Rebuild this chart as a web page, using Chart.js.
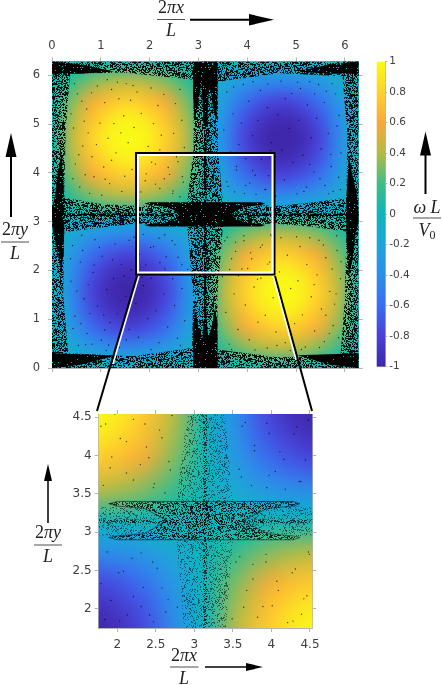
<!DOCTYPE html>
<html>
<head>
<meta charset="utf-8">
<title>Vorticity map</title>
<script src="https://cdn.jsdelivr.net/npm/chart.js@4"></script>
<style>
    html, body { margin: 0; padding: 0; background: #fff; }
    #page { position: relative; width: 442px; height: 685px; overflow: hidden; }
    canvas, svg { position: absolute; left: 0; top: 0; }
    .math { font-family: "Liberation Serif", serif; font-size: 18px; fill: #222; }
</style>
</head>
<body>
<div id="page">
    <canvas id="mainChart" width="442" height="400"></canvas>
    <canvas id="barChart" width="442" height="400"></canvas>
    <canvas id="zoomChart" width="442" height="685"></canvas>
    <svg width="442" height="685" xmlns="http://www.w3.org/2000/svg">
        <!-- zoom box and connectors -->
        <rect x="136" y="153" width="138.5" height="121.5" fill="none" stroke="#000" stroke-width="2"/>
        <rect x="138" y="155" width="134.5" height="117.5" fill="none" stroke="#fff" stroke-width="2"/>
        <line x1="137" y1="276" x2="97" y2="411" stroke="#000" stroke-width="2"/>
        <line x1="139" y1="276" x2="113" y2="364" stroke="#fff" stroke-width="1.5"/>
        <line x1="275" y1="276" x2="312" y2="411" stroke="#000" stroke-width="2"/>
        <line x1="273" y1="276" x2="296" y2="360" stroke="#fff" stroke-width="1.5"/>

        <!-- top x label -->
        <text class="math" x="171" y="13" text-anchor="middle">2<tspan font-style="italic">πx</tspan></text>
        <line x1="157" y1="19.5" x2="185" y2="19.5" stroke="#222" stroke-width="0.8"/>
        <text class="math" x="171" y="36" text-anchor="middle" font-style="italic">L</text>
        <line x1="190" y1="19.7" x2="252" y2="19.7" stroke="#000" stroke-width="2"/>
        <polygon points="249,14 274,19.7 249,25.5" fill="#000"/>

        <!-- left y label -->
        <line x1="11" y1="217" x2="11" y2="155" stroke="#000" stroke-width="2"/>
        <polygon points="5.5,157 11,133 16.5,157" fill="#000"/>
        <text class="math" x="15" y="235" text-anchor="middle">2<tspan font-style="italic">πy</tspan></text>
        <line x1="1" y1="242" x2="29" y2="242" stroke="#222" stroke-width="0.8"/>
        <text class="math" x="15" y="259" text-anchor="middle" font-style="italic">L</text>

        <!-- colour bar label -->
        <line x1="425.5" y1="194" x2="425.5" y2="153" stroke="#000" stroke-width="2"/>
        <polygon points="420,155.5 425.5,131.5 431,155.5" fill="#000"/>
        <text class="math" x="427" y="213" text-anchor="middle" font-style="italic">ω L</text>
        <line x1="413" y1="218" x2="441" y2="218" stroke="#222" stroke-width="0.8"/>
        <text class="math" x="427" y="236" text-anchor="middle"><tspan font-style="italic">V</tspan><tspan font-size="12" dy="3">0</tspan></text>

        <!-- zoom y label -->
        <line x1="48" y1="523" x2="48" y2="479" stroke="#000" stroke-width="1.5"/>
        <polygon points="44,481 48,464 52,481" fill="#000"/>
        <text class="math" x="48" y="538" text-anchor="middle">2<tspan font-style="italic">πy</tspan></text>
        <line x1="34" y1="545" x2="62" y2="545" stroke="#222" stroke-width="0.8"/>
        <text class="math" x="48" y="562" text-anchor="middle" font-style="italic">L</text>

        <!-- zoom x label -->
        <text class="math" x="184" y="661" text-anchor="middle">2<tspan font-style="italic">πx</tspan></text>
        <line x1="170" y1="667" x2="198.5" y2="667" stroke="#222" stroke-width="0.8"/>
        <text class="math" x="184" y="684" text-anchor="middle" font-style="italic">L</text>
        <line x1="205" y1="667" x2="248" y2="667" stroke="#000" stroke-width="1.5"/>
        <polygon points="246,663 263,667 246,671" fill="#000"/>
    </svg>
</div>
<script>
// ---- axis ticks ----
const mainTicks = [0, 1, 2, 3, 4, 5, 6];
const zoomTicks = [2, 2.5, 3, 3.5, 4, 4.5];
const barTicks = [-1, -0.8, -0.6, -0.4, -0.2, 0, 0.2, 0.4, 0.6, 0.8, 1];
const mainRange = [0, 6.283];
const zoomRangeX = [1.76, 4.53];
const zoomRangeY = [1.75, 4.54];

// ---- colour bar stops ----
const stopValues = [-1, -0.8, -0.6, -0.4, -0.2, 0, 0.2, 0.4, 0.6, 0.8, 1];
const stopColors = ['#3e26a8', '#4a40d8', '#3a6df2', '#2c8eea', '#1fa5d8', '#0cb5bb',
    '#3fbd84', '#b4bb46', '#f8a93a', '#fcd22c', '#f9fb15'];

// ---- vorticity, rows from y = 6.28 down to y = 0 ----
const heatNodes = [0, 0.39, 0.79, 1.18, 1.57, 1.96, 2.36, 2.75, 3.14, 3.53, 3.93, 4.32, 4.71, 5.11, 5.5, 5.89, 6.28];
const heatRows = [
    [0, 0, 0, 0, 0, 0, 0, 0, 0, 0, 0, 0, 0, 0, 0, 0, 0],
    [0, 0.16, 0.3, 0.38, 0.42, 0.38, 0.3, 0.16, 0, -0.16, -0.3, -0.38, -0.42, -0.38, -0.3, -0.16, 0],
    [0, 0.3, 0.56, 0.71, 0.78, 0.71, 0.56, 0.3, 0, -0.3, -0.56, -0.71, -0.78, -0.71, -0.56, -0.3, 0],
    [0, 0.38, 0.71, 0.89, 0.96, 0.89, 0.71, 0.38, 0, -0.38, -0.71, -0.89, -0.96, -0.89, -0.71, -0.38, 0],
    [0, 0.42, 0.78, 0.96, 1, 0.96, 0.78, 0.42, 0, -0.42, -0.78, -0.96, -1, -0.96, -0.78, -0.42, 0],
    [0, 0.38, 0.71, 0.89, 0.96, 0.89, 0.71, 0.38, 0, -0.38, -0.71, -0.89, -0.96, -0.89, -0.71, -0.38, 0],
    [0, 0.3, 0.56, 0.71, 0.78, 0.71, 0.56, 0.3, 0, -0.3, -0.56, -0.71, -0.78, -0.71, -0.56, -0.3, 0],
    [0, 0.16, 0.3, 0.38, 0.42, 0.38, 0.3, 0.16, 0, -0.16, -0.3, -0.38, -0.42, -0.38, -0.3, -0.16, 0],
    [0, 0, 0, 0, 0, 0, 0, 0, 0, 0, 0, 0, 0, 0, 0, 0, 0],
    [0, -0.16, -0.3, -0.38, -0.42, -0.38, -0.3, -0.16, 0, 0.16, 0.3, 0.38, 0.42, 0.38, 0.3, 0.16, 0],
    [0, -0.3, -0.56, -0.71, -0.78, -0.71, -0.56, -0.3, 0, 0.3, 0.56, 0.71, 0.78, 0.71, 0.56, 0.3, 0],
    [0, -0.38, -0.71, -0.89, -0.96, -0.89, -0.71, -0.38, 0, 0.38, 0.71, 0.89, 0.96, 0.89, 0.71, 0.38, 0],
    [0, -0.42, -0.78, -0.96, -1, -0.96, -0.78, -0.42, 0, 0.42, 0.78, 0.96, 1, 0.96, 0.78, 0.42, 0],
    [0, -0.38, -0.71, -0.89, -0.96, -0.89, -0.71, -0.38, 0, 0.38, 0.71, 0.89, 0.96, 0.89, 0.71, 0.38, 0],
    [0, -0.3, -0.56, -0.71, -0.78, -0.71, -0.56, -0.3, 0, 0.3, 0.56, 0.71, 0.78, 0.71, 0.56, 0.3, 0],
    [0, -0.16, -0.3, -0.38, -0.42, -0.38, -0.3, -0.16, 0, 0.16, 0.3, 0.38, 0.42, 0.38, 0.3, 0.16, 0],
    [0, 0, 0, 0, 0, 0, 0, 0, 0, 0, 0, 0, 0, 0, 0, 0, 0]
];

// ---- chaotic bands (outlines in data units), filled with stipple ----
const bandLeft = [[0, 0], [0.33, 0], [0.33, 0.3], [0.23, 1.5], [0.25, 2.78], [0.25, 3.5], [0.28, 4.87], [0.37, 6.03], [0.37, 6.283], [0, 6.283]];
const bandRight = [[6.283, 6.283], [5.95, 6.283], [5.95, 5.98], [6.05, 4.78], [6.03, 3.5], [6.03, 2.79], [6.0, 1.41], [5.91, 0.25], [5.91, 0], [6.283, 0]];
const bandTop = [[0, 6.283], [6.283, 6.283], [6.283, 5.95], [5.95, 5.98], [4.64, 6.04], [3.41, 5.87], [2.9, 5.91], [1.46, 6.06], [0.37, 6.03], [0, 6.03]];
const bandBottom = [[0, 0], [6.283, 0], [6.283, 0.25], [5.91, 0.25], [4.64, 0.22], [3.38, 0.38], [2.87, 0.41], [1.64, 0.24], [0.33, 0.3], [0, 0.3]];
const bandH = [[0.2, 3.5], [1, 3.36], [1.75, 3.32], [2.76, 3.38], [3.51, 3.38], [4.58, 3.32], [5.26, 3.38], [6.1, 3.5], [6.1, 2.79], [5.3, 2.9], [4.53, 2.96], [3.5, 2.9], [2.78, 2.9], [1.75, 2.96], [1, 2.88], [0.2, 2.78]];
const bandV = [[2.9, 6.1], [3.4, 6.1], [3.4, 5.87], [3.4, 4.5], [3.5, 3.4], [3.5, 2.9], [3.39, 1.5], [3.39, 0.37], [2.87, 0.41], [2.89, 1.5], [2.77, 2.9], [2.77, 3.4], [2.9, 4.5], [2.9, 5.9]];
const stripH = [[0, 3.165], [6.283, 3.165], [6.283, 3.115], [0, 3.115]];
const stripV = [[3.115, 6.283], [3.165, 6.283], [3.165, 0], [3.115, 0]];

// ---- dark islands ----
const wedgeTL = [[0, 6.283], [0.6, 6.22], [1.27, 6.08], [0.6, 6.03], [0, 6.03]];
const wedgeTR = [[6.283, 6.283], [5.68, 6.22], [5.01, 6.08], [5.68, 6.03], [6.283, 6.03]];
const wedgeBL = [[0, 0.3], [1.29, 0.25], [0.6, 0.07], [0, 0]];
const wedgeBR = [[6.283, 0.3], [5.03, 0.26], [5.68, 0.07], [6.283, 0]];
const combTop = [[2.89, 6.283], [3.39, 6.283], [3.39, 5.6], [3.36, 5.07], [3.28, 5.45], [3.22, 5.85], [3.18, 5.0], [3.11, 5.0], [3.06, 5.85], [3.0, 5.45], [2.92, 5.07], [2.89, 5.6]];
const combBottom = [[2.89, 0], [3.39, 0], [3.39, 0.9], [3.34, 1.23], [3.27, 0.85], [3.2, 0.6], [3.17, 1.0], [3.11, 1.0], [3.08, 0.6], [3.0, 0.85], [2.93, 1.23], [2.89, 0.9]];
const wedgeLeft = [[0.2, 4.4], [0.25, 3.5], [0.25, 2.75], [0.22, 2.3], [0.2, 1.93], [0.13, 2.3], [0.02, 2.8], [0, 3.1], [0, 3.3], [0.06, 3.5], [0.13, 4.1]];
const wedgeRight = [[6.08, 1.88], [6.03, 2.78], [6.03, 3.53], [6.06, 3.98], [6.08, 4.35], [6.15, 3.98], [6.26, 3.48], [6.283, 3.18], [6.283, 2.98], [6.22, 2.78], [6.15, 2.18]];
const butterfly = [[1.89, 3.37], [2.0, 3.4], [4.28, 3.4], [4.37, 3.37], [4.28, 3.34], [3.95, 3.31], [3.63, 3.15], [3.95, 2.98], [4.28, 2.95], [4.37, 2.93], [4.28, 2.9], [2.0, 2.9], [1.89, 2.93], [2.0, 2.95], [2.35, 2.98], [2.65, 3.15], [2.35, 3.31], [2.0, 3.34]];

// ---- stray trajectory dots inside the regular cells ----
const dotsTL = [[0.52, 5.62], [0.71, 5.31], [0.44, 4.92], [0.63, 4.55], [0.48, 4.18], [0.86, 3.92], [0.57, 3.71], [0.93, 5.78], [1.08, 5.44], [1.22, 5.71], [0.98, 5.02], [1.15, 4.71], [1.27, 5.01], [0.82, 4.33], [1.06, 4.12], [1.31, 4.41], [1.18, 3.78], [1.43, 3.62], [1.52, 5.83], [1.61, 5.49], [1.74, 5.66], [1.47, 5.17], [1.68, 4.93], [1.83, 5.22], [1.56, 4.62], [1.79, 4.38], [1.64, 4.07], [1.91, 3.84], [2.03, 5.74], [2.17, 5.38], [2.29, 5.61], [2.08, 5.01], [2.24, 4.77], [1.97, 4.54], [2.36, 4.41], [2.12, 4.18], [2.41, 3.97], [2.21, 3.68], [2.53, 5.42], [2.66, 5.08], [2.49, 4.81], [2.71, 4.52], [2.58, 4.23], [2.69, 3.81], [2.47, 3.58], [0.66, 5.06], [0.77, 3.58], [1.37, 5.52], [1.02, 3.54], [2.62, 5.71]];
const dotsTR = [[3.58, 5.66], [3.71, 5.21], [3.52, 4.88], [3.66, 4.43], [3.78, 4.06], [3.61, 3.72], [3.92, 5.81], [4.03, 5.47], [3.88, 5.02], [4.11, 4.76], [3.97, 4.29], [4.16, 3.95], [3.94, 3.58], [4.27, 5.69], [4.41, 5.34], [4.22, 5.07], [4.49, 4.62], [4.33, 4.37], [4.56, 4.08], [4.38, 3.66], [4.69, 5.88], [4.78, 5.52], [4.62, 5.19], [4.86, 4.91], [4.71, 4.47], [4.94, 4.21], [4.76, 3.86], [5.02, 3.57], [5.09, 5.73], [5.23, 5.39], [5.06, 5.08], [5.31, 4.72], [5.14, 4.36], [5.37, 4.02], [5.21, 3.71], [5.46, 5.81], [5.58, 5.44], [5.42, 5.12], [5.66, 4.81], [5.51, 4.49], [5.72, 4.13], [5.59, 3.74], [5.81, 5.62], [5.88, 5.18], [5.76, 3.62], [5.92, 4.41], [4.05, 3.79], [4.91, 5.63], [5.28, 5.87], [3.83, 4.58]];
const dotsBL = [[0.42, 2.51], [0.58, 2.17], [0.39, 1.78], [0.66, 1.42], [0.47, 1.06], [0.72, 0.71], [0.54, 0.46], [0.88, 2.63], [1.03, 2.29], [0.84, 1.96], [1.12, 1.61], [0.93, 1.27], [1.19, 0.93], [1.01, 0.57], [1.29, 2.54], [1.42, 2.12], [1.26, 1.83], [1.51, 1.47], [1.34, 1.11], [1.58, 0.79], [1.38, 0.42], [1.68, 2.68], [1.79, 2.33], [1.62, 2.01], [1.87, 1.69], [1.72, 1.32], [1.96, 1.01], [1.77, 0.63], [2.03, 0.38], [2.08, 2.49], [2.21, 2.16], [2.03, 1.84], [2.29, 1.52], [2.13, 1.17], [2.37, 0.84], [2.19, 0.52], [2.46, 2.61], [2.58, 2.27], [2.42, 1.92], [2.66, 1.63], [2.51, 1.28], [2.72, 0.97], [2.57, 0.61], [2.78, 2.02], [0.61, 2.72], [1.11, 0.36], [0.78, 1.12], [1.47, 1.88], [2.31, 2.73], [2.63, 0.46]];
const dotsBR = [[3.54, 2.61], [3.68, 2.24], [3.49, 1.87], [3.73, 1.52], [3.56, 1.14], [3.81, 0.79], [3.63, 0.49], [3.93, 2.71], [4.07, 2.36], [3.89, 2.03], [4.14, 1.66], [3.96, 1.29], [4.22, 0.94], [4.04, 0.58], [4.31, 2.52], [4.46, 2.17], [4.28, 1.84], [4.53, 1.44], [4.37, 1.08], [4.59, 0.74], [4.41, 0.41], [4.69, 2.67], [4.82, 2.31], [4.66, 1.97], [4.89, 1.63], [4.72, 1.24], [4.97, 0.91], [4.78, 0.52], [5.08, 2.49], [5.22, 2.12], [5.04, 1.79], [5.31, 1.46], [5.13, 1.09], [5.38, 0.76], [5.19, 0.43], [5.47, 2.62], [5.61, 2.26], [5.43, 1.91], [5.69, 1.57], [5.52, 1.21], [5.76, 0.87], [5.58, 0.54], [5.84, 2.41], [5.91, 1.83], [5.79, 1.31], [4.16, 0.37], [3.76, 2.58], [5.01, 2.69], [5.87, 0.62], [4.48, 2.74]];
const dotsZoom = [[1.85, 4.41], [2.04, 4.22], [2.21, 4.47], [2.38, 4.11], [2.55, 4.33], [2.67, 3.92], [1.93, 3.98], [2.12, 3.77], [2.3, 3.88], [2.48, 3.63], [2.62, 3.51], [1.82, 3.61], [3.62, 4.38], [3.78, 4.13], [3.94, 4.42], [4.11, 4.05], [4.29, 4.28], [4.44, 3.94], [3.58, 3.82], [3.74, 3.61], [3.97, 3.74], [4.18, 3.56], [4.36, 3.66], [4.48, 4.46], [1.87, 2.74], [2.02, 2.47], [2.19, 2.66], [2.34, 2.28], [2.52, 2.53], [2.66, 2.12], [1.92, 2.11], [2.13, 1.92], [2.31, 2.03], [2.47, 1.83], [2.63, 1.96], [1.84, 1.86], [3.59, 2.68], [3.76, 2.39], [3.93, 2.61], [4.09, 2.24], [4.27, 2.47], [4.42, 2.13], [3.64, 2.02], [3.82, 1.89], [4.01, 2.04], [4.21, 1.82], [4.39, 1.93], [4.49, 2.71]];
const dotsOuter = [[0.46, 5.83], [0.61, 5.47], [0.81, 5.64], [0.39, 5.21], [0.55, 4.37], [0.74, 4.82], [0.91, 4.58], [0.43, 3.88], [0.68, 3.96], [1.13, 5.91], [1.34, 5.86], [1.41, 4.82], [1.22, 4.26], [1.49, 3.93], [1.09, 3.87], [1.66, 5.79], [0.38, 2.24], [0.51, 1.58], [0.43, 0.81], [0.63, 2.41], [0.74, 1.71], [0.82, 0.49], [0.97, 2.47], [1.08, 0.78], [1.24, 2.22], [1.16, 0.47], [1.52, 0.58], [0.59, 0.91], [0.86, 2.11], [0.69, 0.48], [1.58, 2.62], [1.06, 1.08], [5.38, 5.62], [5.62, 5.67], [5.84, 4.96], [5.71, 4.38], [5.87, 3.91], [5.49, 3.88], [5.28, 4.17], [5.16, 3.62], [5.03, 5.86], [5.74, 5.83], [4.42, 5.82], [4.12, 5.87], [5.91, 3.66], [5.67, 3.57], [4.58, 3.52], [3.72, 5.76], [5.56, 2.52], [5.74, 2.03], [5.82, 1.52], [5.68, 0.71], [5.28, 2.67], [5.37, 1.71], [5.48, 0.42], [5.11, 0.38], [4.88, 0.36], [4.61, 0.46], [3.68, 0.38], [5.83, 2.71], [5.92, 2.18], [5.61, 1.08]];

const mainBands = [bandLeft, bandRight, bandTop, bandBottom, bandH, bandV];
const mainStrips = [stripH, stripV];
const mainIslands = [wedgeTL, wedgeTR, wedgeBL, wedgeBR, combTop, combBottom, wedgeLeft, wedgeRight, butterfly];

const ink = '#404040';
const frameColor = '#b4b4b4';

// ---- colour helpers ----
function hexToRgb(hex) {
    return [1, 3, 5].map(i => parseInt(hex.slice(i, i + 2), 16));
}

function colorFor(value) {
    for (let i = 1; i < stopValues.length; i++) {
        if (value <= stopValues[i]) {
            const t = (value - stopValues[i - 1]) / (stopValues[i] - stopValues[i - 1]);
            const a = hexToRgb(stopColors[i - 1]);
            const b = hexToRgb(stopColors[i]);
            return a.map((c, k) => Math.round(c + (b[k] - c) * t));
        }
    }
    return hexToRgb(stopColors[stopColors.length - 1]);
}

function resampled(source, factor) {
    const out = document.createElement('canvas');
    out.width = source.width * factor;
    out.height = source.height * factor;
    const c = out.getContext('2d');
    c.imageSmoothingEnabled = true;
    c.imageSmoothingQuality = 'high';
    c.drawImage(source, 0, 0, out.width, out.height);
    return out;
}

// one pixel per matrix node, the browser smooths it when it is stretched
function buildHeatImage() {
    const n = heatNodes.length;
    const image = document.createElement('canvas');
    image.width = n;
    image.height = n;
    const c = image.getContext('2d');
    heatRows.forEach((row, r) => row.forEach((v, k) => {
        c.fillStyle = `rgb(${colorFor(v).join(',')})`;
        c.fillRect(k, r, 1, 1);
    }));
    return resampled(resampled(image, 3), 3);
}
const heatImage = buildHeatImage();

// stipple texture tile, only a fill style for the chaotic bands
function stipple(ctx, density, alpha) {
    const size = 128;
    const tile = document.createElement('canvas');
    tile.width = size;
    tile.height = size;
    const c = tile.getContext('2d');
    c.fillStyle = `rgba(0,0,0,${alpha})`;
    for (let y = 0; y < size; y++) {
        for (let x = 0; x < size; x++) {
            let h = Math.imul(x, 374761393) + Math.imul(y, 668265263);
            h = Math.imul(h ^ (h >>> 13), 1274126177);
            h = (h ^ (h >>> 16)) >>> 0;
            if (h % 1000 < density * 1000) c.fillRect(x, y, 1, 1);
        }
    }
    return ctx.createPattern(tile, 'repeat');
}

function fillRegion(chart, points, style, outline) {
    const { ctx, scales } = chart;
    ctx.beginPath();
    points.forEach(([x, y], i) => {
        const px = scales.x.getPixelForValue(x);
        const py = scales.y.getPixelForValue(y);
        if (i === 0) ctx.moveTo(px, py); else ctx.lineTo(px, py);
    });
    ctx.closePath();
    ctx.fillStyle = style;
    ctx.fill();
    if (outline) {
        ctx.strokeStyle = outline;
        ctx.lineWidth = 0.8;
        ctx.stroke();
    }
}

// heat map and regions go under the scatter dots
function fieldPlugin(layers, blur) {
    return {
        id: 'field',
        beforeDatasetsDraw(chart) {
            const { ctx, chartArea, scales } = chart;
            const step = heatNodes[1] - heatNodes[0];
            const left = scales.x.getPixelForValue(heatNodes[0] - step / 2);
            const right = scales.x.getPixelForValue(heatNodes[heatNodes.length - 1] + step / 2);
            const top = scales.y.getPixelForValue(heatNodes[heatNodes.length - 1] + step / 2);
            const bottom = scales.y.getPixelForValue(heatNodes[0] - step / 2);
            ctx.save();
            ctx.beginPath();
            ctx.rect(chartArea.left, chartArea.top, chartArea.right - chartArea.left, chartArea.bottom - chartArea.top);
            ctx.clip();
            ctx.imageSmoothingEnabled = true;
            ctx.imageSmoothingQuality = 'high';
            ctx.drawImage(heatImage, left, top, right - left, bottom - top);
            ctx.filter = `blur(${blur}px)`;
            layers(ctx).forEach(layer => {
                layer.regions.forEach(r => fillRegion(chart, r, layer.style, layer.outline));
            });
            ctx.restore();
        }
    };
}

function fixedTicks(values) {
    return scale => { scale.ticks = values.map(v => ({ value: v })); };
}

function axis(position, range, values, opts) {
    const horizontal = position === 'top' || position === 'bottom';
    return {
        type: 'linear',
        position,
        min: range[0],
        max: range[1],
        border: { color: frameColor },
        grid: { drawOnChartArea: false, color: frameColor, tickLength: opts.tickLength || 4 },
        ticks: {
            display: !!opts.labels,
            color: ink,
            font: { family: '"DejaVu Sans"', size: opts.size || 12 },
            padding: opts.padding === undefined ? 3 : opts.padding,
            autoSkip: false,
            maxRotation: 0,
            callback: v => String(v)
        },
        afterBuildTicks: fixedTicks(values),
        afterFit(scale) {
            if (horizontal) scale.height = opts.thick; else scale.width = opts.thick;
        }
    };
}

function makeFieldChart(id, rangeX, rangeY, ticks, xPos, style, box, dots, layers) {
    const canvas = document.getElementById(id);
    const scales = {
        x: axis(xPos, rangeX, ticks, { labels: true, size: style.size, padding: style.padX, thick: xPos === 'top' ? box.top : canvas.height - box.bottom }),
        y: axis('left', rangeY, ticks, { labels: true, size: style.size, padding: style.padY, thick: box.left }),
        y2: axis('right', rangeY, ticks, { thick: 0 })
    };
    scales[xPos === 'top' ? 'x2' : 'x3'] = axis(xPos === 'top' ? 'bottom' : 'top', rangeX, ticks, { thick: 0 });
    return new Chart(canvas, {
        type: 'scatter',
        data: {
            datasets: [{
                data: dots.map(([x, y]) => ({ x, y })),
                xAxisID: 'x',
                yAxisID: 'y',
                pointRadius: 0.7,
                pointBorderWidth: 0,
                backgroundColor: 'rgba(0,0,0,0.7)'
            }]
        },
        options: {
            responsive: false,
            animation: false,
            devicePixelRatio: 1,
            layout: {
                padding: {
                    left: 0,
                    top: xPos === 'top' ? 0 : box.top,
                    right: canvas.width - box.right,
                    bottom: xPos === 'top' ? canvas.height - box.bottom : 0
                }
            },
            plugins: { legend: { display: false }, tooltip: { enabled: false } },
            scales
        },
        plugins: [fieldPlugin(layers, style.blur)]
    });
}

makeFieldChart('mainChart', mainRange, mainRange, mainTicks, 'top',
    { size: 11.5, padX: 5, padY: 8, blur: 0.45 },
    { left: 52, top: 61.5, right: 358.7, bottom: 368 },
    [...dotsTL, ...dotsTR, ...dotsBL, ...dotsBR, ...dotsZoom, ...dotsOuter],
    ctx => [
        { regions: mainBands, style: stipple(ctx, 0.52, 0.9) },
        { regions: mainStrips, style: stipple(ctx, 0.85, 0.95) },
        { regions: mainIslands, style: stipple(ctx, 0.97, 1) }
    ]);

makeFieldChart('zoomChart', zoomRangeX, zoomRangeY, zoomTicks, 'bottom',
    { size: 12, padX: 6, padY: 3, blur: 0.3 },
    { left: 98.7, top: 414, right: 312.3, bottom: 628 },
    [...dotsTL, ...dotsTR, ...dotsBL, ...dotsBR, ...dotsZoom, ...dotsOuter],
    ctx => [
        { regions: [bandH, bandV], style: stipple(ctx, 0.2, 0.5) },
        { regions: mainStrips, style: stipple(ctx, 0.45, 0.65) },
        { regions: [butterfly], style: stipple(ctx, 0.42, 0.7), outline: 'rgba(0,0,0,0.6)' }
    ]);

// colour bar: a gradient between the stops, placed with the value scale
new Chart(document.getElementById('barChart'), {
    type: 'scatter',
    data: { datasets: [] },
    options: {
        responsive: false,
        animation: false,
        devicePixelRatio: 1,
        layout: { padding: { left: 376.7, top: 61.7, right: 442 - 385.3 - 30, bottom: 400 - 366.7 } },
        plugins: { legend: { display: false }, tooltip: { enabled: false } },
        scales: {
            x: { display: false, min: 0, max: 1 },
            y: axis('right', [-1, 1], barTicks, { labels: true, size: 10.5, thick: 30, tickLength: 2, padding: 2 })
        }
    },
    plugins: [{
        id: 'colourBar',
        beforeDatasetsDraw(chart) {
            const { ctx, chartArea, scales } = chart;
            const bottom = scales.y.getPixelForValue(stopValues[0]);
            const top = scales.y.getPixelForValue(stopValues[stopValues.length - 1]);
            const gradient = ctx.createLinearGradient(0, bottom, 0, top);
            stopValues.forEach((v, i) => gradient.addColorStop((v - stopValues[0]) / 2, stopColors[i]));
            ctx.fillStyle = gradient;
            ctx.fillRect(chartArea.left, top, chartArea.right - chartArea.left, bottom - top);
        }
    }]
});
</script>
</body>
</html>
